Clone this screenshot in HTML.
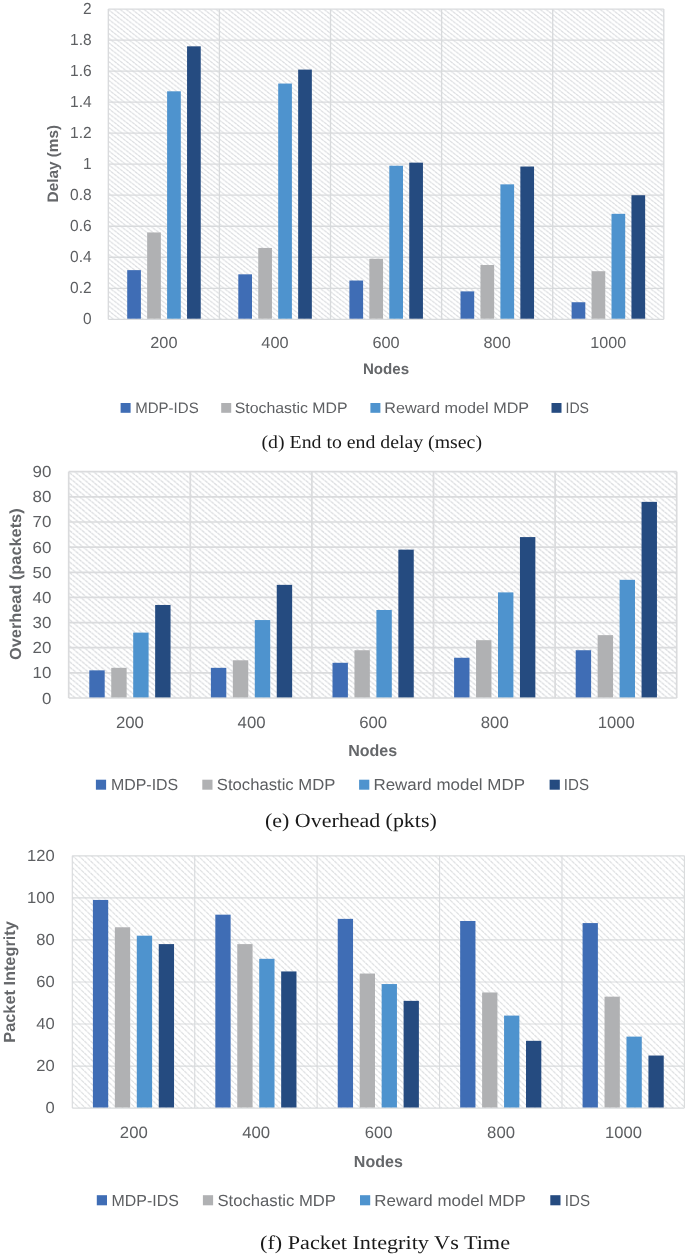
<!DOCTYPE html>
<html lang="en"><head><meta charset="utf-8"><title>Figure: delay, overhead, packet integrity</title>
<style>html,body{margin:0;padding:0;background:#fff}body{width:685px;height:1256px;overflow:hidden}svg{display:block}text{text-rendering:geometricPrecision}</style>
</head><body>
<svg width="685" height="1256" viewBox="0 0 685 1256">
<defs>
<pattern id="hatch1" patternUnits="userSpaceOnUse" width="6.0" height="4.7"><rect width="6.0" height="4.7" fill="#ffffff"/><path d="M-6.0,-4.7 L12.0,9.4 M0,-4.7 L12.0,4.7 M-6.0,0 L6.0,9.4" stroke="#dcdee1" stroke-width="1.2" stroke-dasharray="3.4298 0.3811" fill="none"/></pattern>
<pattern id="hatch2" patternUnits="userSpaceOnUse" width="6.3" height="5.25"><rect width="6.3" height="5.25" fill="#ffffff"/><path d="M-6.3,-5.25 L12.6,10.5 M0,-5.25 L12.6,5.25 M-6.3,0 L6.3,10.5" stroke="#dadcdf" stroke-width="1.2" stroke-dasharray="3.6083 0.4920" fill="none"/></pattern>
<pattern id="hatch3" patternUnits="userSpaceOnUse" width="6.25" height="6.0"><rect width="6.25" height="6.0" fill="#ffffff"/><path d="M-6.25,-6.0 L12.5,12.0 M0,-6.0 L12.5,6.0 M-6.25,0 L6.25,12.0" stroke="#dddfe1" stroke-width="1.15" stroke-dasharray="3.6821 0.6498" fill="none"/></pattern>
</defs>
<rect width="685" height="1256" fill="#ffffff"/>
<rect x="108.30" y="9.10" width="555.50" height="310.20" fill="url(#hatch1)"/>
<line x1="108.30" y1="9.10" x2="663.80" y2="9.10" stroke="#d8dadc" stroke-width="1.3"/>
<line x1="108.30" y1="40.12" x2="663.80" y2="40.12" stroke="#d8dadc" stroke-width="1.3"/>
<line x1="108.30" y1="71.14" x2="663.80" y2="71.14" stroke="#d8dadc" stroke-width="1.3"/>
<line x1="108.30" y1="102.16" x2="663.80" y2="102.16" stroke="#d8dadc" stroke-width="1.3"/>
<line x1="108.30" y1="133.18" x2="663.80" y2="133.18" stroke="#d8dadc" stroke-width="1.3"/>
<line x1="108.30" y1="164.20" x2="663.80" y2="164.20" stroke="#d8dadc" stroke-width="1.3"/>
<line x1="108.30" y1="195.22" x2="663.80" y2="195.22" stroke="#d8dadc" stroke-width="1.3"/>
<line x1="108.30" y1="226.24" x2="663.80" y2="226.24" stroke="#d8dadc" stroke-width="1.3"/>
<line x1="108.30" y1="257.26" x2="663.80" y2="257.26" stroke="#d8dadc" stroke-width="1.3"/>
<line x1="108.30" y1="288.28" x2="663.80" y2="288.28" stroke="#d8dadc" stroke-width="1.3"/>
<line x1="108.30" y1="319.30" x2="663.80" y2="319.30" stroke="#d8dadc" stroke-width="1.3"/>
<line x1="108.30" y1="9.10" x2="108.30" y2="319.30" stroke="#d8dadc" stroke-width="1.3"/>
<line x1="219.40" y1="9.10" x2="219.40" y2="319.30" stroke="#d8dadc" stroke-width="1.3"/>
<line x1="330.50" y1="9.10" x2="330.50" y2="319.30" stroke="#d8dadc" stroke-width="1.3"/>
<line x1="441.60" y1="9.10" x2="441.60" y2="319.30" stroke="#d8dadc" stroke-width="1.3"/>
<line x1="552.70" y1="9.10" x2="552.70" y2="319.30" stroke="#d8dadc" stroke-width="1.3"/>
<line x1="663.80" y1="9.10" x2="663.80" y2="319.30" stroke="#d8dadc" stroke-width="1.3"/>
<rect x="127.20" y="270.13" width="13.70" height="48.57" fill="#3f6db5"/>
<rect x="147.15" y="232.44" width="13.70" height="86.26" fill="#b0b1b3"/>
<rect x="167.10" y="91.30" width="13.70" height="227.40" fill="#4e93ce"/>
<rect x="187.05" y="46.32" width="13.70" height="272.38" fill="#254b80"/>
<rect x="238.30" y="274.32" width="13.70" height="44.38" fill="#3f6db5"/>
<rect x="258.25" y="247.95" width="13.70" height="70.75" fill="#b0b1b3"/>
<rect x="278.20" y="83.55" width="13.70" height="235.15" fill="#4e93ce"/>
<rect x="298.15" y="69.59" width="13.70" height="249.11" fill="#254b80"/>
<rect x="349.40" y="280.53" width="13.70" height="38.17" fill="#3f6db5"/>
<rect x="369.35" y="258.81" width="13.70" height="59.89" fill="#b0b1b3"/>
<rect x="389.30" y="165.75" width="13.70" height="152.95" fill="#4e93ce"/>
<rect x="409.25" y="162.65" width="13.70" height="156.05" fill="#254b80"/>
<rect x="460.50" y="291.38" width="13.70" height="27.32" fill="#3f6db5"/>
<rect x="480.45" y="265.01" width="13.70" height="53.68" fill="#b0b1b3"/>
<rect x="500.40" y="184.36" width="13.70" height="134.34" fill="#4e93ce"/>
<rect x="520.35" y="166.53" width="13.70" height="152.17" fill="#254b80"/>
<rect x="571.60" y="302.24" width="13.70" height="16.46" fill="#3f6db5"/>
<rect x="591.55" y="271.22" width="13.70" height="47.48" fill="#b0b1b3"/>
<rect x="611.50" y="213.83" width="13.70" height="104.87" fill="#4e93ce"/>
<rect x="631.45" y="195.22" width="13.70" height="123.48" fill="#254b80"/>
<text x="91.60" y="324.40" font-family='"Liberation Sans", sans-serif' font-size="16.0" font-weight="normal" fill="#5d5f62" text-anchor="end" textLength="8.60" lengthAdjust="spacingAndGlyphs">0</text>
<text x="91.60" y="293.38" font-family='"Liberation Sans", sans-serif' font-size="16.0" font-weight="normal" fill="#5d5f62" text-anchor="end" textLength="21.60" lengthAdjust="spacingAndGlyphs">0.2</text>
<text x="91.60" y="262.36" font-family='"Liberation Sans", sans-serif' font-size="16.0" font-weight="normal" fill="#5d5f62" text-anchor="end" textLength="21.60" lengthAdjust="spacingAndGlyphs">0.4</text>
<text x="91.60" y="231.34" font-family='"Liberation Sans", sans-serif' font-size="16.0" font-weight="normal" fill="#5d5f62" text-anchor="end" textLength="21.60" lengthAdjust="spacingAndGlyphs">0.6</text>
<text x="91.60" y="200.32" font-family='"Liberation Sans", sans-serif' font-size="16.0" font-weight="normal" fill="#5d5f62" text-anchor="end" textLength="21.60" lengthAdjust="spacingAndGlyphs">0.8</text>
<text x="91.60" y="169.30" font-family='"Liberation Sans", sans-serif' font-size="16.0" font-weight="normal" fill="#5d5f62" text-anchor="end" textLength="8.60" lengthAdjust="spacingAndGlyphs">1</text>
<text x="91.60" y="138.28" font-family='"Liberation Sans", sans-serif' font-size="16.0" font-weight="normal" fill="#5d5f62" text-anchor="end" textLength="21.60" lengthAdjust="spacingAndGlyphs">1.2</text>
<text x="91.60" y="107.26" font-family='"Liberation Sans", sans-serif' font-size="16.0" font-weight="normal" fill="#5d5f62" text-anchor="end" textLength="21.60" lengthAdjust="spacingAndGlyphs">1.4</text>
<text x="91.60" y="76.24" font-family='"Liberation Sans", sans-serif' font-size="16.0" font-weight="normal" fill="#5d5f62" text-anchor="end" textLength="21.60" lengthAdjust="spacingAndGlyphs">1.6</text>
<text x="91.60" y="45.22" font-family='"Liberation Sans", sans-serif' font-size="16.0" font-weight="normal" fill="#5d5f62" text-anchor="end" textLength="21.60" lengthAdjust="spacingAndGlyphs">1.8</text>
<text x="91.60" y="14.20" font-family='"Liberation Sans", sans-serif' font-size="16.0" font-weight="normal" fill="#5d5f62" text-anchor="end" textLength="8.60" lengthAdjust="spacingAndGlyphs">2</text>
<text x="163.85" y="347.80" font-family='"Liberation Sans", sans-serif' font-size="16.0" font-weight="normal" fill="#5d5f62" text-anchor="middle" textLength="27.20" lengthAdjust="spacingAndGlyphs">200</text>
<text x="274.95" y="347.80" font-family='"Liberation Sans", sans-serif' font-size="16.0" font-weight="normal" fill="#5d5f62" text-anchor="middle" textLength="27.20" lengthAdjust="spacingAndGlyphs">400</text>
<text x="386.05" y="347.80" font-family='"Liberation Sans", sans-serif' font-size="16.0" font-weight="normal" fill="#5d5f62" text-anchor="middle" textLength="27.20" lengthAdjust="spacingAndGlyphs">600</text>
<text x="497.15" y="347.80" font-family='"Liberation Sans", sans-serif' font-size="16.0" font-weight="normal" fill="#5d5f62" text-anchor="middle" textLength="27.20" lengthAdjust="spacingAndGlyphs">800</text>
<text x="608.25" y="347.80" font-family='"Liberation Sans", sans-serif' font-size="16.0" font-weight="normal" fill="#5d5f62" text-anchor="middle" textLength="35.80" lengthAdjust="spacingAndGlyphs">1000</text>
<text x="386.05" y="374.40" font-family='"Liberation Sans", sans-serif' font-size="15.2" font-weight="bold" fill="#65676a" text-anchor="middle" textLength="46.20" lengthAdjust="spacingAndGlyphs">Nodes</text>
<text transform="translate(58.40,163.70) rotate(-90)" font-family='"Liberation Sans", sans-serif' font-size="15.2" font-weight="bold" fill="#65676a" text-anchor="middle" textLength="77.40" lengthAdjust="spacingAndGlyphs">Delay (ms)</text>
<rect x="120.60" y="403.00" width="10.00" height="9.80" fill="#3f6db5"/>
<text x="135.20" y="413.00" font-family='"Liberation Sans", sans-serif' font-size="15.1" font-weight="normal" fill="#5d5f62" text-anchor="start" textLength="63.50" lengthAdjust="spacingAndGlyphs">MDP-IDS</text>
<rect x="221.20" y="403.00" width="10.00" height="9.80" fill="#b0b1b3"/>
<text x="234.70" y="413.00" font-family='"Liberation Sans", sans-serif' font-size="15.1" font-weight="normal" fill="#5d5f62" text-anchor="start" textLength="112.80" lengthAdjust="spacingAndGlyphs">Stochastic MDP</text>
<rect x="370.40" y="403.00" width="10.00" height="9.80" fill="#4e93ce"/>
<text x="384.20" y="413.00" font-family='"Liberation Sans", sans-serif' font-size="15.1" font-weight="normal" fill="#5d5f62" text-anchor="start" textLength="145.00" lengthAdjust="spacingAndGlyphs">Reward model MDP</text>
<rect x="551.50" y="403.00" width="10.00" height="9.80" fill="#254b80"/>
<text x="565.50" y="413.00" font-family='"Liberation Sans", sans-serif' font-size="15.1" font-weight="normal" fill="#5d5f62" text-anchor="start" textLength="23.50" lengthAdjust="spacingAndGlyphs">IDS</text>
<text x="261.50" y="447.80" font-family='"Liberation Serif", serif' font-size="18.4" font-weight="normal" fill="#1a1a1a" text-anchor="start" textLength="220.50" lengthAdjust="spacingAndGlyphs">(d) End to end delay (msec)</text>
<rect x="68.70" y="471.70" width="608.00" height="226.30" fill="url(#hatch2)"/>
<line x1="68.70" y1="471.70" x2="676.70" y2="471.70" stroke="#dadbdd" stroke-width="1.7"/>
<line x1="68.70" y1="496.84" x2="676.70" y2="496.84" stroke="#dadbdd" stroke-width="1.7"/>
<line x1="68.70" y1="521.99" x2="676.70" y2="521.99" stroke="#dadbdd" stroke-width="1.7"/>
<line x1="68.70" y1="547.13" x2="676.70" y2="547.13" stroke="#dadbdd" stroke-width="1.7"/>
<line x1="68.70" y1="572.28" x2="676.70" y2="572.28" stroke="#dadbdd" stroke-width="1.7"/>
<line x1="68.70" y1="597.42" x2="676.70" y2="597.42" stroke="#dadbdd" stroke-width="1.7"/>
<line x1="68.70" y1="622.57" x2="676.70" y2="622.57" stroke="#dadbdd" stroke-width="1.7"/>
<line x1="68.70" y1="647.71" x2="676.70" y2="647.71" stroke="#dadbdd" stroke-width="1.7"/>
<line x1="68.70" y1="672.86" x2="676.70" y2="672.86" stroke="#dadbdd" stroke-width="1.7"/>
<line x1="68.70" y1="698.00" x2="676.70" y2="698.00" stroke="#dadbdd" stroke-width="1.7"/>
<line x1="68.70" y1="471.70" x2="68.70" y2="698.00" stroke="#dadbdd" stroke-width="1.7"/>
<line x1="190.30" y1="471.70" x2="190.30" y2="698.00" stroke="#dadbdd" stroke-width="1.7"/>
<line x1="311.90" y1="471.70" x2="311.90" y2="698.00" stroke="#dadbdd" stroke-width="1.7"/>
<line x1="433.50" y1="471.70" x2="433.50" y2="698.00" stroke="#dadbdd" stroke-width="1.7"/>
<line x1="555.10" y1="471.70" x2="555.10" y2="698.00" stroke="#dadbdd" stroke-width="1.7"/>
<line x1="676.70" y1="471.70" x2="676.70" y2="698.00" stroke="#dadbdd" stroke-width="1.7"/>
<rect x="89.30" y="670.34" width="15.40" height="27.06" fill="#3f6db5"/>
<rect x="111.25" y="667.83" width="15.40" height="29.57" fill="#b0b1b3"/>
<rect x="133.20" y="632.62" width="15.40" height="64.78" fill="#4e93ce"/>
<rect x="155.15" y="604.97" width="15.40" height="92.43" fill="#254b80"/>
<rect x="210.90" y="667.83" width="15.40" height="29.57" fill="#3f6db5"/>
<rect x="232.85" y="660.28" width="15.40" height="37.12" fill="#b0b1b3"/>
<rect x="254.80" y="620.05" width="15.40" height="77.35" fill="#4e93ce"/>
<rect x="276.75" y="584.85" width="15.40" height="112.55" fill="#254b80"/>
<rect x="332.50" y="662.80" width="15.40" height="34.60" fill="#3f6db5"/>
<rect x="354.45" y="650.23" width="15.40" height="47.17" fill="#b0b1b3"/>
<rect x="376.40" y="609.99" width="15.40" height="87.41" fill="#4e93ce"/>
<rect x="398.35" y="549.65" width="15.40" height="147.75" fill="#254b80"/>
<rect x="454.10" y="657.77" width="15.40" height="39.63" fill="#3f6db5"/>
<rect x="476.05" y="640.17" width="15.40" height="57.23" fill="#b0b1b3"/>
<rect x="498.00" y="592.39" width="15.40" height="105.01" fill="#4e93ce"/>
<rect x="519.95" y="537.08" width="15.40" height="160.32" fill="#254b80"/>
<rect x="575.70" y="650.23" width="15.40" height="47.17" fill="#3f6db5"/>
<rect x="597.65" y="635.14" width="15.40" height="62.26" fill="#b0b1b3"/>
<rect x="619.60" y="579.82" width="15.40" height="117.58" fill="#4e93ce"/>
<rect x="641.55" y="501.87" width="15.40" height="195.53" fill="#254b80"/>
<text x="51.40" y="703.50" font-family='"Liberation Sans", sans-serif' font-size="16.1" font-weight="normal" fill="#5d5f62" text-anchor="end" textLength="9.40" lengthAdjust="spacingAndGlyphs">0</text>
<text x="51.40" y="678.36" font-family='"Liberation Sans", sans-serif' font-size="16.1" font-weight="normal" fill="#5d5f62" text-anchor="end" textLength="18.85" lengthAdjust="spacingAndGlyphs">10</text>
<text x="51.40" y="653.21" font-family='"Liberation Sans", sans-serif' font-size="16.1" font-weight="normal" fill="#5d5f62" text-anchor="end" textLength="18.85" lengthAdjust="spacingAndGlyphs">20</text>
<text x="51.40" y="628.07" font-family='"Liberation Sans", sans-serif' font-size="16.1" font-weight="normal" fill="#5d5f62" text-anchor="end" textLength="18.85" lengthAdjust="spacingAndGlyphs">30</text>
<text x="51.40" y="602.92" font-family='"Liberation Sans", sans-serif' font-size="16.1" font-weight="normal" fill="#5d5f62" text-anchor="end" textLength="18.85" lengthAdjust="spacingAndGlyphs">40</text>
<text x="51.40" y="577.78" font-family='"Liberation Sans", sans-serif' font-size="16.1" font-weight="normal" fill="#5d5f62" text-anchor="end" textLength="18.85" lengthAdjust="spacingAndGlyphs">50</text>
<text x="51.40" y="552.63" font-family='"Liberation Sans", sans-serif' font-size="16.1" font-weight="normal" fill="#5d5f62" text-anchor="end" textLength="18.85" lengthAdjust="spacingAndGlyphs">60</text>
<text x="51.40" y="527.49" font-family='"Liberation Sans", sans-serif' font-size="16.1" font-weight="normal" fill="#5d5f62" text-anchor="end" textLength="18.85" lengthAdjust="spacingAndGlyphs">70</text>
<text x="51.40" y="502.34" font-family='"Liberation Sans", sans-serif' font-size="16.1" font-weight="normal" fill="#5d5f62" text-anchor="end" textLength="18.85" lengthAdjust="spacingAndGlyphs">80</text>
<text x="51.40" y="477.20" font-family='"Liberation Sans", sans-serif' font-size="16.1" font-weight="normal" fill="#5d5f62" text-anchor="end" textLength="18.85" lengthAdjust="spacingAndGlyphs">90</text>
<text x="129.95" y="728.00" font-family='"Liberation Sans", sans-serif' font-size="16.5" font-weight="normal" fill="#5d5f62" text-anchor="middle" textLength="28.00" lengthAdjust="spacingAndGlyphs">200</text>
<text x="251.55" y="728.00" font-family='"Liberation Sans", sans-serif' font-size="16.5" font-weight="normal" fill="#5d5f62" text-anchor="middle" textLength="28.00" lengthAdjust="spacingAndGlyphs">400</text>
<text x="373.15" y="728.00" font-family='"Liberation Sans", sans-serif' font-size="16.5" font-weight="normal" fill="#5d5f62" text-anchor="middle" textLength="28.00" lengthAdjust="spacingAndGlyphs">600</text>
<text x="494.75" y="728.00" font-family='"Liberation Sans", sans-serif' font-size="16.5" font-weight="normal" fill="#5d5f62" text-anchor="middle" textLength="28.00" lengthAdjust="spacingAndGlyphs">800</text>
<text x="616.35" y="728.00" font-family='"Liberation Sans", sans-serif' font-size="16.5" font-weight="normal" fill="#5d5f62" text-anchor="middle" textLength="37.00" lengthAdjust="spacingAndGlyphs">1000</text>
<text x="372.70" y="756.30" font-family='"Liberation Sans", sans-serif' font-size="16.1" font-weight="bold" fill="#65676a" text-anchor="middle" textLength="49.00" lengthAdjust="spacingAndGlyphs">Nodes</text>
<text transform="translate(21.00,584.15) rotate(-90)" font-family='"Liberation Sans", sans-serif' font-size="16.1" font-weight="bold" fill="#65676a" text-anchor="middle" textLength="151.60" lengthAdjust="spacingAndGlyphs">Overhead (packets)</text>
<rect x="95.90" y="779.70" width="10.20" height="10.00" fill="#3f6db5"/>
<text x="111.00" y="789.60" font-family='"Liberation Sans", sans-serif' font-size="16.1" font-weight="normal" fill="#5d5f62" text-anchor="start" textLength="67.20" lengthAdjust="spacingAndGlyphs">MDP-IDS</text>
<rect x="202.30" y="779.70" width="10.20" height="10.00" fill="#b0b1b3"/>
<text x="216.80" y="789.60" font-family='"Liberation Sans", sans-serif' font-size="16.1" font-weight="normal" fill="#5d5f62" text-anchor="start" textLength="118.60" lengthAdjust="spacingAndGlyphs">Stochastic MDP</text>
<rect x="359.10" y="779.70" width="10.20" height="10.00" fill="#4e93ce"/>
<text x="373.40" y="789.60" font-family='"Liberation Sans", sans-serif' font-size="16.1" font-weight="normal" fill="#5d5f62" text-anchor="start" textLength="151.60" lengthAdjust="spacingAndGlyphs">Reward model MDP</text>
<rect x="549.60" y="779.70" width="10.20" height="10.00" fill="#254b80"/>
<text x="563.80" y="789.60" font-family='"Liberation Sans", sans-serif' font-size="16.1" font-weight="normal" fill="#5d5f62" text-anchor="start" textLength="25.20" lengthAdjust="spacingAndGlyphs">IDS</text>
<text x="265.00" y="827.00" font-family='"Liberation Serif", serif' font-size="19.9" font-weight="normal" fill="#1a1a1a" text-anchor="start" textLength="171.80" lengthAdjust="spacingAndGlyphs">(e) Overhead (pkts)</text>
<rect x="72.30" y="855.80" width="612.10" height="252.30" fill="url(#hatch3)"/>
<line x1="72.30" y1="855.80" x2="684.40" y2="855.80" stroke="#d9dbdd" stroke-width="1.15"/>
<line x1="72.30" y1="897.85" x2="684.40" y2="897.85" stroke="#d9dbdd" stroke-width="1.15"/>
<line x1="72.30" y1="939.90" x2="684.40" y2="939.90" stroke="#d9dbdd" stroke-width="1.15"/>
<line x1="72.30" y1="981.95" x2="684.40" y2="981.95" stroke="#d9dbdd" stroke-width="1.15"/>
<line x1="72.30" y1="1024.00" x2="684.40" y2="1024.00" stroke="#d9dbdd" stroke-width="1.15"/>
<line x1="72.30" y1="1066.05" x2="684.40" y2="1066.05" stroke="#d9dbdd" stroke-width="1.15"/>
<line x1="72.30" y1="1108.10" x2="684.40" y2="1108.10" stroke="#d9dbdd" stroke-width="1.15"/>
<line x1="72.30" y1="855.80" x2="72.30" y2="1108.10" stroke="#d9dbdd" stroke-width="1.15"/>
<line x1="194.72" y1="855.80" x2="194.72" y2="1108.10" stroke="#d9dbdd" stroke-width="1.15"/>
<line x1="317.14" y1="855.80" x2="317.14" y2="1108.10" stroke="#d9dbdd" stroke-width="1.15"/>
<line x1="439.56" y1="855.80" x2="439.56" y2="1108.10" stroke="#d9dbdd" stroke-width="1.15"/>
<line x1="561.98" y1="855.80" x2="561.98" y2="1108.10" stroke="#d9dbdd" stroke-width="1.15"/>
<line x1="684.40" y1="855.80" x2="684.40" y2="1108.10" stroke="#d9dbdd" stroke-width="1.15"/>
<rect x="92.90" y="899.95" width="15.30" height="207.55" fill="#3f6db5"/>
<rect x="114.85" y="927.28" width="15.30" height="180.21" fill="#b0b1b3"/>
<rect x="136.80" y="935.69" width="15.30" height="171.80" fill="#4e93ce"/>
<rect x="158.75" y="944.10" width="15.30" height="163.39" fill="#254b80"/>
<rect x="215.32" y="914.67" width="15.30" height="192.83" fill="#3f6db5"/>
<rect x="237.27" y="944.10" width="15.30" height="163.39" fill="#b0b1b3"/>
<rect x="259.22" y="958.82" width="15.30" height="148.68" fill="#4e93ce"/>
<rect x="281.17" y="971.44" width="15.30" height="136.06" fill="#254b80"/>
<rect x="337.74" y="918.88" width="15.30" height="188.62" fill="#3f6db5"/>
<rect x="359.69" y="973.54" width="15.30" height="133.96" fill="#b0b1b3"/>
<rect x="381.64" y="984.05" width="15.30" height="123.45" fill="#4e93ce"/>
<rect x="403.59" y="1000.87" width="15.30" height="106.63" fill="#254b80"/>
<rect x="460.16" y="920.98" width="15.30" height="186.52" fill="#3f6db5"/>
<rect x="482.11" y="992.46" width="15.30" height="115.04" fill="#b0b1b3"/>
<rect x="504.06" y="1015.59" width="15.30" height="91.91" fill="#4e93ce"/>
<rect x="526.01" y="1040.82" width="15.30" height="66.68" fill="#254b80"/>
<rect x="582.58" y="923.08" width="15.30" height="184.42" fill="#3f6db5"/>
<rect x="604.53" y="996.67" width="15.30" height="110.83" fill="#b0b1b3"/>
<rect x="626.48" y="1036.62" width="15.30" height="70.88" fill="#4e93ce"/>
<rect x="648.43" y="1055.54" width="15.30" height="51.96" fill="#254b80"/>
<text x="54.60" y="1113.25" font-family='"Liberation Sans", sans-serif' font-size="16.1" font-weight="normal" fill="#5d5f62" text-anchor="end" textLength="9.20" lengthAdjust="spacingAndGlyphs">0</text>
<text x="54.60" y="1071.20" font-family='"Liberation Sans", sans-serif' font-size="16.1" font-weight="normal" fill="#5d5f62" text-anchor="end" textLength="18.40" lengthAdjust="spacingAndGlyphs">20</text>
<text x="54.60" y="1029.15" font-family='"Liberation Sans", sans-serif' font-size="16.1" font-weight="normal" fill="#5d5f62" text-anchor="end" textLength="18.40" lengthAdjust="spacingAndGlyphs">40</text>
<text x="54.60" y="987.10" font-family='"Liberation Sans", sans-serif' font-size="16.1" font-weight="normal" fill="#5d5f62" text-anchor="end" textLength="18.40" lengthAdjust="spacingAndGlyphs">60</text>
<text x="54.60" y="945.05" font-family='"Liberation Sans", sans-serif' font-size="16.1" font-weight="normal" fill="#5d5f62" text-anchor="end" textLength="18.40" lengthAdjust="spacingAndGlyphs">80</text>
<text x="54.60" y="903.00" font-family='"Liberation Sans", sans-serif' font-size="16.1" font-weight="normal" fill="#5d5f62" text-anchor="end" textLength="27.60" lengthAdjust="spacingAndGlyphs">100</text>
<text x="54.60" y="860.95" font-family='"Liberation Sans", sans-serif' font-size="16.1" font-weight="normal" fill="#5d5f62" text-anchor="end" textLength="27.60" lengthAdjust="spacingAndGlyphs">120</text>
<text x="133.81" y="1138.35" font-family='"Liberation Sans", sans-serif' font-size="16.5" font-weight="normal" fill="#5d5f62" text-anchor="middle" textLength="27.90" lengthAdjust="spacingAndGlyphs">200</text>
<text x="256.23" y="1138.35" font-family='"Liberation Sans", sans-serif' font-size="16.5" font-weight="normal" fill="#5d5f62" text-anchor="middle" textLength="27.90" lengthAdjust="spacingAndGlyphs">400</text>
<text x="378.65" y="1138.35" font-family='"Liberation Sans", sans-serif' font-size="16.5" font-weight="normal" fill="#5d5f62" text-anchor="middle" textLength="27.90" lengthAdjust="spacingAndGlyphs">600</text>
<text x="501.07" y="1138.35" font-family='"Liberation Sans", sans-serif' font-size="16.5" font-weight="normal" fill="#5d5f62" text-anchor="middle" textLength="27.90" lengthAdjust="spacingAndGlyphs">800</text>
<text x="623.49" y="1138.35" font-family='"Liberation Sans", sans-serif' font-size="16.5" font-weight="normal" fill="#5d5f62" text-anchor="middle" textLength="36.90" lengthAdjust="spacingAndGlyphs">1000</text>
<text x="378.35" y="1166.60" font-family='"Liberation Sans", sans-serif' font-size="16.1" font-weight="bold" fill="#65676a" text-anchor="middle" textLength="49.00" lengthAdjust="spacingAndGlyphs">Nodes</text>
<text transform="translate(15.00,981.95) rotate(-90)" font-family='"Liberation Sans", sans-serif' font-size="16.1" font-weight="bold" fill="#65676a" text-anchor="middle" textLength="121.50" lengthAdjust="spacingAndGlyphs">Packet Integrity</text>
<rect x="96.80" y="1195.20" width="10.20" height="10.10" fill="#3f6db5"/>
<text x="111.60" y="1205.50" font-family='"Liberation Sans", sans-serif' font-size="16.1" font-weight="normal" fill="#5d5f62" text-anchor="start" textLength="67.20" lengthAdjust="spacingAndGlyphs">MDP-IDS</text>
<rect x="202.90" y="1195.20" width="10.20" height="10.10" fill="#b0b1b3"/>
<text x="217.40" y="1205.50" font-family='"Liberation Sans", sans-serif' font-size="16.1" font-weight="normal" fill="#5d5f62" text-anchor="start" textLength="118.60" lengthAdjust="spacingAndGlyphs">Stochastic MDP</text>
<rect x="360.00" y="1195.20" width="10.20" height="10.10" fill="#4e93ce"/>
<text x="374.30" y="1205.50" font-family='"Liberation Sans", sans-serif' font-size="16.1" font-weight="normal" fill="#5d5f62" text-anchor="start" textLength="151.60" lengthAdjust="spacingAndGlyphs">Reward model MDP</text>
<rect x="550.30" y="1195.20" width="10.20" height="10.10" fill="#254b80"/>
<text x="564.80" y="1205.50" font-family='"Liberation Sans", sans-serif' font-size="16.1" font-weight="normal" fill="#5d5f62" text-anchor="start" textLength="25.20" lengthAdjust="spacingAndGlyphs">IDS</text>
<text x="260.00" y="1248.50" font-family='"Liberation Serif", serif' font-size="19.6" font-weight="normal" fill="#1a1a1a" text-anchor="start" textLength="250.00" lengthAdjust="spacingAndGlyphs">(f) Packet Integrity Vs Time</text>
</svg></body></html>
